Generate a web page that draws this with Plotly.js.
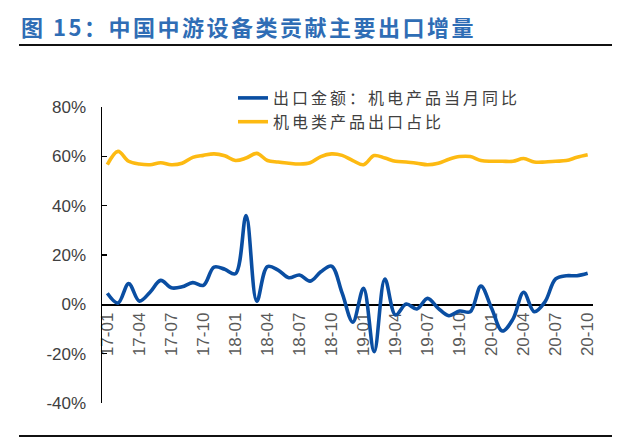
<!DOCTYPE html>
<html>
<head>
<meta charset="utf-8">
<script src="https://cdn.plot.ly/plotly-3.0.1.min.js"></script>
<style>
  html, body { margin: 0; padding: 0; background: #fff; }
  #chart { width: 640px; height: 438px; }
  .gtitle { letter-spacing: 2.5px; }
  .legendtext { letter-spacing: 3px; }
</style>
</head>
<body>
<div id="chart"></div>
<script>
// Monthly categories, 2017-01 .. 2020-10
const months = [
  "17-01","17-02","17-03","17-04","17-05","17-06","17-07","17-08","17-09","17-10","17-11","17-12",
  "18-01","18-02","18-03","18-04","18-05","18-06","18-07","18-08","18-09","18-10","18-11","18-12",
  "19-01","19-02","19-03","19-04","19-05","19-06","19-07","19-08","19-09","19-10","19-11","19-12",
  "20-01","20-02","20-03","20-04","20-05","20-06","20-07","20-08","20-09","20-10"
];

// 出口金额：机电产品当月同比 (%)
const yoyValues = [
  4.5, 0.5, 8.4, 1.3, 4.9, 9.7, 6.7, 7.1, 8.8, 7.7, 15.1, 14.2,
  12.4, 36.0, 1.3, 15.3, 13.9, 10.8, 11.9, 9.4, 13.2, 15.5, 4.5, -7.2,
  6.5, -19.2, 10.3, -4.3, 0.1, -1.9, 2.4, -1.6, -4.6, -2.7, -3.0, 7.4,
  -1.6, -10.8, -6.0, 4.9, -3.0, 1.0, 10.3, 11.6, 11.6, 12.6
];

// 机电类产品出口占比 (%)
const shareValues = [
  56.6, 62.0, 58.0, 56.9, 56.6, 57.4, 56.6, 57.2, 59.6, 60.4, 61.0, 60.2,
  58.3, 59.3, 61.2, 58.3, 57.7, 57.2, 56.9, 57.4, 59.9, 61.0, 60.4, 58.3,
  56.6, 60.3, 59.3, 58.0, 57.7, 57.2, 56.6, 57.2, 58.8, 59.9, 59.9, 58.3,
  58.0, 58.0, 58.0, 59.1, 57.7, 57.7, 58.0, 58.3, 59.6, 60.6
];

const seriesNames = ["出口金额：机电产品当月同比", "机电类产品出口占比"];
const yTickVals = [-40, -20, 0, 20, 40, 60, 80];
const yTickText = ["-40%", "-20%", "0%", "20%", "40%", "60%", "80%"];

// every third month is labelled; tick marks sit on the category boundaries
const labelIdx = months.map((m, i) => i).filter(i => i % 3 === 0);
const labelText = labelIdx.map(i => months[i]);
const boundaryTicks = labelIdx.filter(i => i > 0).map(i => i - 0.5);
const xIdx = months.map((m, i) => i);

const yMin = -40, yMax = 80;
const yDom = [1 - 403 / 438, 1 - 107 / 438];
const zeroPos = yDom[0] + (0 - yMin) / (yMax - yMin) * (yDom[1] - yDom[0]);
const xRange = [-0.5, months.length - 0.5];

const traces = [
  {
    x: xIdx, y: yoyValues, name: seriesNames[0], type: "scatter", mode: "lines",
    line: { color: "#0A4EA2", width: 3.6, shape: "spline", smoothing: 1 },
    hoverinfo: "skip"
  },
  {
    x: xIdx, y: shareValues, name: seriesNames[1], type: "scatter", mode: "lines",
    line: { color: "#FDBA12", width: 3.6, shape: "spline", smoothing: 1 },
    hoverinfo: "skip"
  }
];

const numFont = "Liberation Sans, Arial, sans-serif";

const layout = {
  width: 640, height: 438,
  margin: { l: 0, r: 0, t: 0, b: 0 },
  paper_bgcolor: "#fff", plot_bgcolor: "#fff",
  showlegend: true,
  title: {
    text: "<b>图 15：中国中游设备类贡献主要出口增量</b>",
    x: 21 / 640, xanchor: "left", xref: "paper",
    y: 1 - 28 / 438, yanchor: "middle", yref: "paper",
    font: { family: "Noto Sans CJK SC", size: 22, color: "#2F6DB5" }
  },
  legend: {
    x: 233 / 640, xanchor: "left", y: 1 - 81 / 438, yanchor: "top",
    bgcolor: "rgba(0,0,0,0)", borderwidth: 0, tracegroupgap: 0,
    font: { family: "Noto Sans CJK SC", size: 16, color: "#404040" }
  },
  xaxis: {
    type: "linear", domain: [102 / 640, 593 / 640], range: xRange,
    anchor: "free", position: zeroPos,
    tickmode: "array", tickvals: labelIdx, ticktext: labelText,
    ticks: "", tickangle: -90,
    tickfont: { family: numFont, size: 17, color: "#595959" },
    showline: true, linecolor: "#000", linewidth: 1.5,
    showgrid: false, zeroline: false, layer: "below traces", fixedrange: true
  },
  xaxis2: {
    type: "linear", overlaying: "x", range: xRange,
    anchor: "free", position: zeroPos,
    tickmode: "array", tickvals: boundaryTicks,
    ticks: "inside", ticklen: 5, tickwidth: 1.3, tickcolor: "#000",
    showticklabels: false, showline: false, showgrid: false, zeroline: false, fixedrange: true
  },
  yaxis: {
    domain: yDom, range: [yMin, yMax],
    tickmode: "array", tickvals: yTickVals, ticktext: yTickText,
    ticks: "inside", ticklen: 5, tickwidth: 1.3, tickcolor: "#000",
    tickfont: { family: numFont, size: 17, color: "#404040" }, ticklabelstandoff: 11,
    showline: true, linecolor: "#000", linewidth: 1.5,
    showgrid: false, zeroline: false, fixedrange: true
  },
  shapes: [
    { type: "line", xref: "paper", yref: "paper", x0: 19 / 640, x1: 612 / 640, y0: 1 - 45 / 438, y1: 1 - 45 / 438,
      line: { color: "#111", width: 2 } },
    { type: "line", xref: "paper", yref: "paper", x0: 19 / 640, x1: 612 / 640, y0: 1 - 436 / 438, y1: 1 - 436 / 438,
      line: { color: "#111", width: 2 } }
  ]
};

Plotly.newPlot("chart", traces, layout, { staticPlot: true, displayModeBar: false });
</script>
</body>
</html>
